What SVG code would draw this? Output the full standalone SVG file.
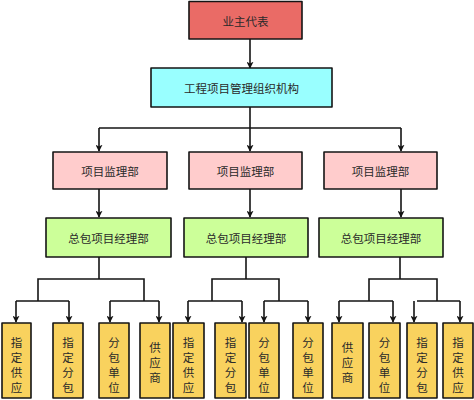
<svg xmlns="http://www.w3.org/2000/svg" width="474" height="400" viewBox="0 0 474 400">
<style>
.b{stroke:#141414;stroke-width:1.6;stroke-linejoin:round}
.red{fill:#EA6B66}.cyan{fill:#99FFFF}.pink{fill:#FFCCCC}.green{fill:#CCFF99}.yel{fill:#F9D25E}
text{font-family:"Noto Sans CJK SC","Noto Sans CJK JP",sans-serif;font-size:11.5px;fill:#2a2a2a;text-anchor:middle;dominant-baseline:central}
.c path{fill:none;stroke:#141414;stroke-width:1.6}
</style>
<defs>
<marker id="ar" viewBox="0 0 10 10" refX="9" refY="5" markerWidth="7" markerHeight="7" orient="auto" markerUnits="userSpaceOnUse">
<path d="M0,0 L10,5 L0,10 L2.5,5 z" fill="#141414"/>
</marker>
</defs>
<rect width="474" height="400" fill="#fff"/>
<g class="c" id="connectors">
<path d="M250,39 V68" marker-end="url(#ar)"/>
<path d="M250,107 V128"/>
<path d="M99,128 H401"/>
<path d="M99,128 V151" marker-end="url(#ar)"/>
<path d="M250,128 V151" marker-end="url(#ar)"/>
<path d="M401,128 V151" marker-end="url(#ar)"/>
<path d="M99,189 V217" marker-end="url(#ar)"/>
<path d="M250,189 V217" marker-end="url(#ar)"/>
<path d="M401,189 V217" marker-end="url(#ar)"/>
<path d="M99,257 V279 M38,301 V279 H144 V301 M16,301 H69 M110,301 H159"/>
<path d="M16,301 V322" marker-end="url(#ar)"/>
<path d="M69,301 V322" marker-end="url(#ar)"/>
<path d="M110,301 V322" marker-end="url(#ar)"/>
<path d="M159,301 V322" marker-end="url(#ar)"/>
<path d="M246,257 V279 M212,301 V279 H279 V301 M188,301 H242 M264,301 H308"/>
<path d="M188,301 V322" marker-end="url(#ar)"/>
<path d="M242,301 V322" marker-end="url(#ar)"/>
<path d="M264,301 V322" marker-end="url(#ar)"/>
<path d="M308,301 V322" marker-end="url(#ar)"/>
<path d="M400,257 V279 M369,301 V279 H437 V301 M339,301 H393 M417,301 H460"/>
<path d="M339,301 V322" marker-end="url(#ar)"/>
<path d="M393,301 V322" marker-end="url(#ar)"/>
<path d="M414,301 V322" marker-end="url(#ar)"/>
<path d="M460,301 V322" marker-end="url(#ar)"/>
</g>
<g id="owner"><rect class="b red" x="189" y="1.5" width="113" height="37.5"/><text x="245.5" y="21">业主代表</text></g>
<g id="org"><rect class="b cyan" x="151" y="68" width="181" height="39"/><text x="241.5" y="88">工程项目管理组织机构</text></g>
<g id="sup1"><rect class="b pink" x="53" y="152" width="114" height="37"/><text x="110" y="171">项目监理部</text></g>
<g id="sup2"><rect class="b pink" x="189" y="152" width="113" height="37"/><text x="245.5" y="171">项目监理部</text></g>
<g id="sup3"><rect class="b pink" x="324" y="152" width="113" height="37"/><text x="380.5" y="171">项目监理部</text></g>
<g id="gc1"><rect class="b green" x="46" y="218" width="125" height="39"/><text x="108.5" y="238">总包项目经理部</text></g>
<g id="gc2"><rect class="b green" x="184" y="218" width="124" height="39"/><text x="246" y="238">总包项目经理部</text></g>
<g id="gc3"><rect class="b green" x="319" y="218" width="124" height="39"/><text x="381" y="238">总包项目经理部</text></g>
<g id="l1"><rect class="b yel" x="2" y="323" width="29" height="75"/><text><tspan x="16.5" y="342">指</tspan><tspan x="16.5" y="357">定</tspan><tspan x="16.5" y="372">供</tspan><tspan x="16.5" y="387">应</tspan></text></g>
<g id="l2"><rect class="b yel" x="53" y="323" width="30" height="75"/><text><tspan x="68" y="342">指</tspan><tspan x="68" y="357">定</tspan><tspan x="68" y="372">分</tspan><tspan x="68" y="387">包</tspan></text></g>
<g id="l3"><rect class="b yel" x="99" y="323" width="30" height="75"/><text><tspan x="114" y="342">分</tspan><tspan x="114" y="357">包</tspan><tspan x="114" y="372">单</tspan><tspan x="114" y="387">位</tspan></text></g>
<g id="l4"><rect class="b yel" x="140" y="323" width="30" height="75"/><text><tspan x="155" y="347">供</tspan><tspan x="155" y="362">应</tspan><tspan x="155" y="377">商</tspan></text></g>
<g id="l5"><rect class="b yel" x="173" y="323" width="31" height="75"/><text><tspan x="188.5" y="342">指</tspan><tspan x="188.5" y="357">定</tspan><tspan x="188.5" y="372">供</tspan><tspan x="188.5" y="387">应</tspan></text></g>
<g id="l6"><rect class="b yel" x="215" y="323" width="31" height="75"/><text><tspan x="230.5" y="342">指</tspan><tspan x="230.5" y="357">定</tspan><tspan x="230.5" y="372">分</tspan><tspan x="230.5" y="387">包</tspan></text></g>
<g id="l7"><rect class="b yel" x="249" y="323" width="30" height="75"/><text><tspan x="264" y="342">分</tspan><tspan x="264" y="357">包</tspan><tspan x="264" y="372">单</tspan><tspan x="264" y="387">位</tspan></text></g>
<g id="l8"><rect class="b yel" x="293" y="323" width="30" height="75"/><text><tspan x="308" y="342">分</tspan><tspan x="308" y="357">包</tspan><tspan x="308" y="372">单</tspan><tspan x="308" y="387">位</tspan></text></g>
<g id="l9"><rect class="b yel" x="332" y="323" width="31" height="75"/><text><tspan x="347.5" y="347">供</tspan><tspan x="347.5" y="362">应</tspan><tspan x="347.5" y="377">商</tspan></text></g>
<g id="l10"><rect class="b yel" x="369" y="323" width="31" height="75"/><text><tspan x="384.5" y="342">分</tspan><tspan x="384.5" y="357">包</tspan><tspan x="384.5" y="372">单</tspan><tspan x="384.5" y="387">位</tspan></text></g>
<g id="l11"><rect class="b yel" x="407" y="323" width="30" height="75"/><text><tspan x="422" y="342">指</tspan><tspan x="422" y="357">定</tspan><tspan x="422" y="372">分</tspan><tspan x="422" y="387">包</tspan></text></g>
<g id="l12"><rect class="b yel" x="443" y="323" width="30" height="75"/><text><tspan x="458" y="342">指</tspan><tspan x="458" y="357">定</tspan><tspan x="458" y="372">供</tspan><tspan x="458" y="387">应</tspan></text></g>
</svg>
